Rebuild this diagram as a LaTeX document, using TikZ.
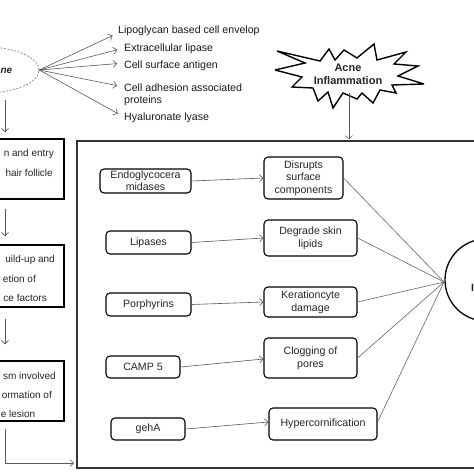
\documentclass[tikz,border=0pt]{standalone}
\usepackage{fontspec}
\setmainfont{Liberation Sans}
\usetikzlibrary{arrows.meta,shapes.geometric}
\begin{document}
\begin{tikzpicture}[x=1pt,y=-1pt,
  every node/.style={font=\fontsize{10.6}{12.7}\selectfont, text=black!85},
  arr/.style={draw=black!65, line width=0.6pt, -{Straight Barb[length=3.5pt,width=7pt]}},
  conn/.style={draw=black!60, line width=0.6pt},
  ibox/.style={draw=black, line width=1.1pt, rounded corners=4pt, align=center, inner sep=1pt},
  obox/.style={draw=black, line width=1.5pt, minimum width=118, inner sep=0pt},
  ltxt/.style={anchor=east, inner sep=0pt, font=\fontsize{10}{12}\selectfont},
  ltop/.style={anchor=west, inner sep=0pt, align=left, text=black!90}]
\useasboundingbox (0,0) rectangle (474,474);
\clip (0,0) rectangle (474,474);
\fill[white] (0,0) rectangle (474,474);

% left ellipse
\node[ellipse, draw=black!55, dash pattern=on 2pt off 1.5pt, line width=0.6pt,
      minimum width=108, minimum height=46] (ell) at (-15,70) {};
\node[anchor=east, inner sep=0pt, font=\fontsize{10}{12}\selectfont\bfseries\itshape] (elltxt) at (12.5,71) {ne};

% top list
\node[ltop] (l1) at (118,31) {Lipoglycan based cell envelop};
\node[ltop] (l2) at (124,49) {Extracellular lipase};
\node[ltop] (l3) at (124,66) {Cell surface antigen};
\node[ltop, font=\fontsize{10.6}{12}\selectfont] (l4) at (124,95) {Cell adhesion associated\\proteins};
\node[ltop] (l5) at (124,118) {Hyaluronate lyase};
\draw[arr, shorten >=6pt] (ell.east) -- ([yshift=-2pt]l1.west);
\draw[arr, shorten >=7pt] (ell.east) -- ([yshift=1pt]l2.west);
\draw[arr, shorten >=7pt] (ell.east) -- ([yshift=3pt]l3.west);
\draw[arr, shorten >=7pt] (ell.east) -- ([yshift=8pt]l4.west);
\draw[arr, shorten >=7pt] (ell.east) -- ([yshift=1pt]l5.west);

% left column boxes
\node[obox, minimum height=60] (lb1) at (5,169) {};
\node[obox, minimum height=62] (lb2) at (5,276) {};
\node[obox, minimum height=60] (lb3) at (5,391) {};
\node[ltxt] (t11) at (54,154) {n and entry};
\node[ltxt] (t12) at (53,173) {hair follicle};
\node[ltxt] (t21) at (55,260) {uild-up and};
\node[ltxt] (t22) at (36,279) {etion of};
\node[ltxt] (t23) at (47,298) {ce factors};
\node[ltxt] (t31) at (56,376) {sm involved};
\node[ltxt] (t32) at (52,395) {ormation of};
\node[ltxt] (t33) at (35.5,414) {e lesion};

\draw[arr, shorten <=7pt, shorten >=6pt] (lb1.north |- ell.south) -- (lb1.north);
\draw[arr, shorten <=9pt, shorten >=8pt] (lb1.south) -- (lb2.north);
\draw[arr, shorten <=11pt, shorten >=16pt] (lb2.south) -- (lb3.north);

% big box
\node[draw=black!80, line width=1.2pt, minimum width=483, minimum height=327, inner sep=0pt] (bb) at (318.5,304.5) {};
\coordinate (feed) at (77,463);
\draw[arr, shorten <=7pt, shorten >=3pt] (lb3.south) -- (lb3.south |- feed) -- (feed);

% starburst
\draw[line width=1.4pt, fill=white, line join=miter, miter limit=4]
  (277,51) -- (305,63) -- (275,70) -- (302,77) -- (292,87) -- (313,88) -- (318,101)
  -- (328,92) -- (333,108) -- (343,93) -- (357,99) -- (362,93) -- (373,103) -- (380,90)
  -- (396,93) -- (392,85) -- (424,84) -- (398,76) -- (418,66) -- (394,64) -- (406,52)
  -- (377,60) -- (374,44) -- (357,58) -- (344,50) -- (335,60) -- (329,49) -- (320,61) -- cycle;
\node[font=\fontsize{11}{13}\selectfont\bfseries, align=center, inner sep=0pt, text=black!85] (acne) at (348,74.5) {Acne\\Inflammation};
\coordinate (starbot) at (349,93);
\draw[arr, shorten >=1pt] (starbot) -- (starbot |- bb.north);

% inner left boxes
\node[ibox, minimum width=91, minimum height=24, font=\fontsize{10.6}{12}\selectfont] (e1) at (145.5,181) {Endoglycocera\\midases};
\node[ibox, minimum width=85, minimum height=23] (e2) at (148.5,242.5) {Lipases};
\node[ibox, minimum width=85, minimum height=23] (e3) at (148.5,304.5) {Porphyrins};
\node[ibox, minimum width=74, minimum height=22] (e4) at (143,367) {CAMP 5};
\node[ibox, minimum width=74, minimum height=22] (e5) at (148,429) {gehA};

% inner right boxes
\node[ibox, minimum width=79, minimum height=42] (r1) at (303.5,178) {Disrupts\\surface\\components};
\node[ibox, minimum width=93, minimum height=36] (r2) at (310.5,238) {Degrade skin\\lipids};
\node[ibox, minimum width=93, minimum height=30] (r3) at (310.5,302) {Kerationcyte\\damage};
\node[ibox, minimum width=93, minimum height=40] (r4) at (310.5,358) {Clogging of\\pores};
\node[ibox, minimum width=108, minimum height=32] (r5) at (323,424) {Hypercornification};

\draw[arr] (e1.east) -- ([yshift=0pt]r1.west);
\draw[arr] (e2.east) -- (r2.west);
\draw[arr] (e3.east) -- (r3.west);
\draw[arr] (e4.east) -- ([yshift=-1pt]r4.west);
\draw[arr] (e5.east) -- ([yshift=2pt]r5.west);

% lesion circle
\node[circle, draw=black, line width=1.3pt, minimum size=82, inner sep=0pt] (les) at (486,280) {};
\node[anchor=west, inner sep=0pt, font=\fontsize{10.6}{12.7}\selectfont\bfseries] (lestxt) at (471,288) {I};
\coordinate (conv) at (444,282);
\draw[conn] ([yshift=0pt]r1.east) -- (conv);
\draw[conn] (r2.east) -- (conv);
\draw[conn] (r3.east) -- (conv);
\draw[conn] (r4.east) -- (conv);
\draw[conn] ([yshift=2pt]r5.east) -- (conv);
\end{tikzpicture}
\end{document}
